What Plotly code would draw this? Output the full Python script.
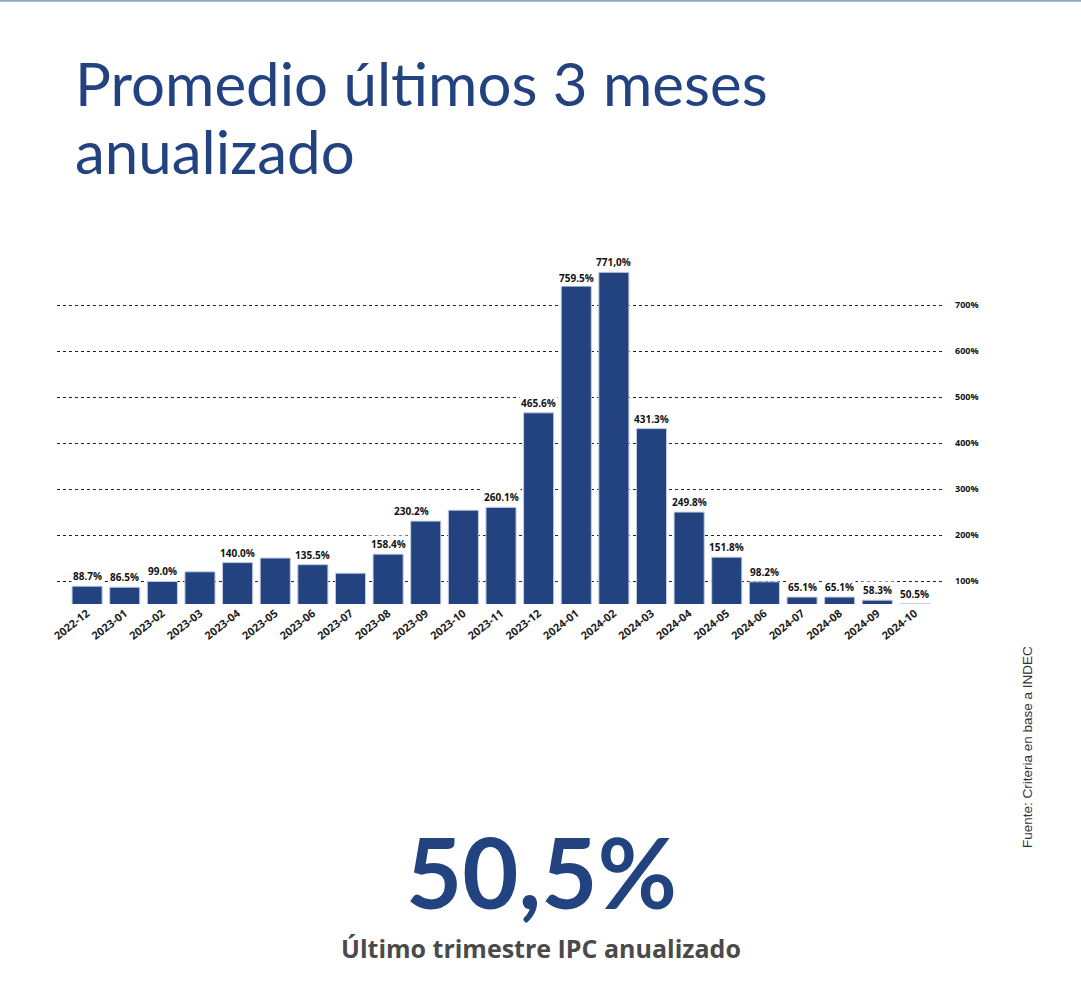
import plotly.graph_objects as go

meses = ['2022-12', '2023-01', '2023-02', '2023-03', '2023-04', '2023-05', '2023-06',
         '2023-07', '2023-08', '2023-09', '2023-10', '2023-11', '2023-12', '2024-01',
         '2024-02', '2024-03', '2024-04', '2024-05', '2024-06', '2024-07', '2024-08',
         '2024-09', '2024-10']
# promedio ultimos 3 meses anualizado (%); los sin etiqueta son estimados del grafico
valores = [88.7, 86.5, 99.0, 120.0, 140.0, 150.0, 135.5, 117.0, 158.4, 230.2, 254.0,
           260.1, 465.6, 759.5, 771.0, 431.3, 249.8, 151.8, 98.2, 65.1, 65.1, 58.3, 50.5]
etiquetas = ['88.7%', '86.5%', '99.0%', '', '140.0%', '', '135.5%', '', '158.4%', '230.2%',
             '', '260.1%', '465.6%', '759.5%', '771,0%', '431.3%', '249.8%', '151.8%',
             '98.2%', '65.1%', '65.1%', '58.3%', '50.5%']
ticks_y = [100, 200, 300, 400, 500, 600, 700]
ticks_y_txt = ['100%', '200%', '300%', '400%', '500%', '600%', '700%']

azul = '#22437f'

# medidas en px del grafico (para pasar a coords paper)
L, R, T, B = 57, 945, 259, 604
W, H = R - L, B - T


def px(x):
    return (x - L) / W


def py(y):
    return (B - y) / H


fig = go.Figure(go.Bar(
    x=meses, y=valores,
    marker=dict(color=azul, line=dict(color='#c3cde0', width=1)),
    hoverinfo='x+y',
))

# etiquetas de datos con fondo blanco
for m, v, t in zip(meses, valores, etiquetas):
    if not t:
        continue
    dx = -14 if m == '2023-09' else 0
    dy = -9 if m == '2024-01' else 1
    fig.add_annotation(
        x=m, y=v, text='<b>' + t + '</b>', showarrow=False,
        xanchor='center', yanchor='bottom', yshift=dy, xshift=dx,
        bgcolor='white', borderpad=1,
        font=dict(family='Open Sans', size=10, color='#111'),
    )


def texto(x, y, t, font, **kw):
    fig.add_annotation(x=px(x), y=py(y), xref='paper', yref='paper', showarrow=False,
                       text=t, font=font, **kw)


# titulo
titulo_font = dict(family='Lato', size=60, color=azul)
texto(73, 83, 'Promedio últimos 3 meses', titulo_font, xanchor='left', yanchor='middle')
texto(73, 151, 'anualizado', titulo_font, xanchor='left', yanchor='middle')

# cifra destacada
texto(541, 871, '<b>50,5%</b>', dict(family='Lato', size=97, color=azul, weight=900),
      xanchor='center', yanchor='middle')
texto(541, 948, '<b>Último trimestre IPC anualizado</b>',
      dict(family='Open Sans', size=25, color='#4a4a4a'), xanchor='center', yanchor='middle')

# fuente
texto(1027, 747, 'Fuente: Criteria en base a INDEC',
      dict(family='Liberation Sans', size=13.5, color='#333'),
      xanchor='center', yanchor='middle', textangle=-90)

# linea superior
fig.add_shape(type='line', xref='paper', yref='paper', x0=px(0), x1=px(1081),
              y0=py(0.8), y1=py(0.8), line=dict(color='#8fa6c8', width=2))

fig.update_layout(
    width=1081, height=1006,
    margin=dict(l=L, r=1081 - R, t=T, b=1006 - B),
    paper_bgcolor='white', plot_bgcolor='white',
    bargap=0.2, showlegend=False,
    xaxis=dict(type='category', range=[-0.8, 22.8], tickangle=-38, showgrid=False,
               showline=False, ticks='',
               tickfont=dict(family='Open Sans', size=11, color='#222', weight='bold')),
    yaxis=dict(range=[50, 800], side='right', tickvals=ticks_y, ticktext=ticks_y_txt,
               showgrid=True, gridcolor='#222', griddash='dot', gridwidth=1,
               zeroline=False, showline=False, ticks='', ticklabelstandoff=9,
               tickfont=dict(family='Open Sans', size=9, color='#111', weight='bold')),
)

# sin margen del body para que el grafico quede en 0,0
fig.write_html('out.html', config={'displayModeBar': False},
               post_script="document.body.style.margin='0';")
